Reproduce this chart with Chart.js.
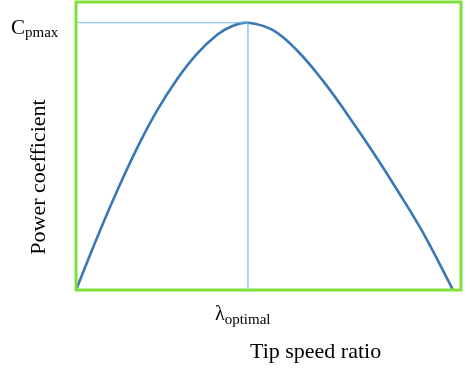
<!DOCTYPE html>
<html>
<head>
<meta charset="utf-8">
<script src="https://cdn.jsdelivr.net/npm/chart.js@4/dist/chart.umd.min.js"></script>
<style>
  html, body { margin: 0; padding: 0; background: #fff; }
  #wrap { width: 474px; height: 372px; }
</style>
</head>
<body>
<div id="wrap"><canvas id="chart" width="474" height="372"></canvas></div>
<script>
// tip speed ratio (x) and power coefficient (y)
const tsr = [0, 0.65, 1.28, 1.90, 2.52, 3.15, 3.77, 4.40, 4.86, 5.36, 6.14, 6.92, 7.70, 8.48, 9.26, 10.04, 10.82, 11.75];
const cp  = [0, 0.090, 0.172, 0.246, 0.311, 0.366, 0.410, 0.443, 0.458, 0.464, 0.451, 0.414, 0.363, 0.303, 0.239, 0.171, 0.099, 0];

const xLabel = "Tip speed ratio";
const yLabel = "Power coefficient";

const peak = cp.indexOf(Math.max(...cp));
const lamOpt = tsr[peak];
const cpMax = cp[peak];

const serif = "'Liberation Serif', 'Times New Roman', serif";

const labels = {
  id: "labels",
  afterDraw(chart) {
    const { ctx, chartArea: a, scales } = chart;
    const px = scales.x.getPixelForValue(lamOpt);
    const py = scales.y.getPixelForValue(cpMax);
    ctx.save();
    // green frame
    ctx.strokeStyle = "#7fe03a";
    ctx.lineWidth = 3;
    ctx.strokeRect(a.left, a.top, a.right - a.left, a.bottom - a.top);

    ctx.fillStyle = "#000";
    ctx.textBaseline = "alphabetic";
    ctx.textAlign = "left";
    // C pmax
    ctx.font = "21px " + serif;
    ctx.fillText("C", 11, py + 11);
    let w = ctx.measureText("C").width;
    ctx.font = "15px " + serif;
    ctx.fillText("pmax", 11 + w, py + 14);
    // lambda optimal
    ctx.font = "20px " + serif;
    ctx.fillText("λ", px - 33, a.bottom + 30);
    w = ctx.measureText("λ").width;
    ctx.font = "15px " + serif;
    ctx.fillText("optimal", px - 33 + w, a.bottom + 34);
    // axis titles
    ctx.font = "22px " + serif;
    ctx.fillText(xLabel, 250, 358);
    ctx.translate(45, 177);
    ctx.rotate(-Math.PI / 2);
    ctx.textAlign = "center";
    ctx.fillText(yLabel, 0, 0);
    ctx.restore();
  }
};

new Chart(document.getElementById("chart"), {
  type: "line",
  data: {
    datasets: [
      {
        data: [{ x: tsr[0] + 0.05, y: cpMax }, { x: lamOpt, y: cpMax }],
        borderColor: "#72b9ec",
        borderWidth: 1.2,
        pointRadius: 0
      },
      {
        data: [{ x: lamOpt, y: cpMax }, { x: lamOpt, y: 0 }],
        borderColor: "#72b9ec",
        borderWidth: 1.2,
        pointRadius: 0
      },
      {
        data: tsr.map((x, i) => ({ x, y: cp[i] })),
        borderColor: "#3a77b7",
        borderWidth: 2.6,
        pointRadius: 0,
        tension: 0.4
      }
    ]
  },
  options: {
    responsive: false,
    animation: false,
    layout: { padding: { left: 76, right: 13, top: 2, bottom: 82 } },
    plugins: { legend: { display: false }, tooltip: { enabled: false } },
    scales: {
      x: { type: "linear", min: 0, max: 12, display: false },
      y: { min: 0, max: 0.5, display: false }
    }
  },
  plugins: [labels]
});
</script>
</body>
</html>
